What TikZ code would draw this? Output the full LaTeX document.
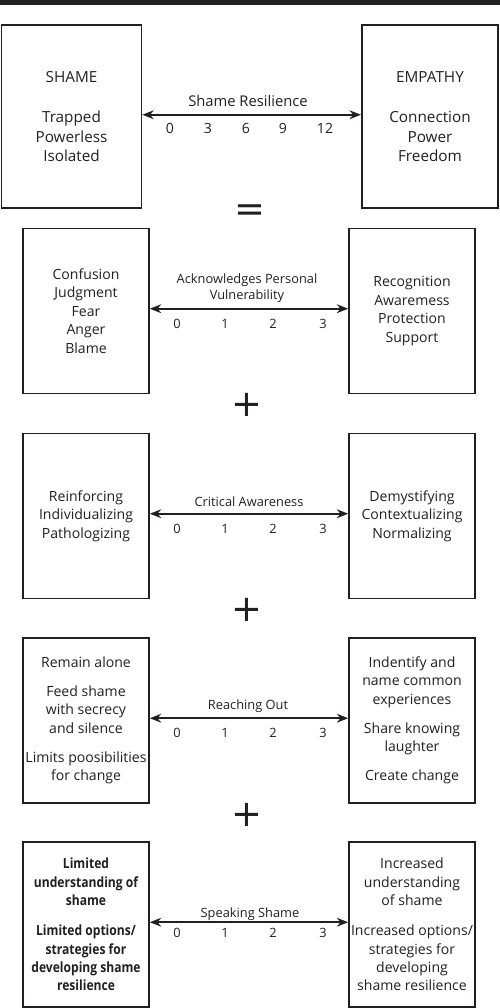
\documentclass[tikz,border=0pt]{standalone}
\usepackage{fontspec}
\setmainfont{Open Sans}
\newfontfamily\narrowbold[FakeStretch=0.86]{Open Sans}
\newfontfamily\signfont{DejaVu Sans}
\usetikzlibrary{arrows.meta}
\definecolor{inkgray}{RGB}{35,31,32}

\tikzset{
  panel/.style={draw=inkgray, line width=0.9pt, align=center, inner sep=0pt,
    minimum width=2.52cm, minimum height=3.3cm, text=inkgray,
    font=\fontsize{8}{10.5}\selectfont},
  gauge/.style={{Stealth[length=6.5pt,width=5pt]}-{Stealth[length=6.5pt,width=5pt]},
    line width=1.2pt, draw=inkgray},
  gaugelbl/.style={anchor=base, inner sep=0pt, text=inkgray,
    font=\fontsize{7.3}{9}\selectfont},
  opsign/.style={inner sep=0pt, text=inkgray, font=\signfont\fontsize{21}{21}\selectfont}
}

\begin{document}
\begin{tikzpicture}[x=0.02cm, y=-0.02cm]
    \useasboundingbox (0,0) rectangle (500,1008);
    \fill[inkgray] (0,0) rectangle (500,4.5);

    % shame resilience
    \node[panel, minimum width=2.8cm, minimum height=3.66cm,
      font=\fontsize{8.7}{11}\selectfont] (shame) at (71.5,116.5)
      {SHAME\\[12pt]Trapped\\Powerless\\Isolated};
    \node[panel, minimum width=2.73cm, minimum height=3.66cm,
      font=\fontsize{8.7}{11}\selectfont] (empathy) at (430,116.5)
      {EMPATHY\\[12pt]Connection\\Power\\Freedom};
    \draw[gauge] ([yshift=1pt]shame.east) -- ([yshift=1pt]empathy.west);
    \node[gaugelbl, font=\fontsize{8.4}{10}\selectfont] (resil) at (248,106) {Shame Resilience};
    \node[gaugelbl, font=\fontsize{8}{10}\selectfont] (sr0) at (170,133) {0};
    \node[gaugelbl, font=\fontsize{8}{10}\selectfont] (sr3) at (208,133) {3};
    \node[gaugelbl, font=\fontsize{8}{10}\selectfont] (sr6) at (246,133) {6};
    \node[gaugelbl, font=\fontsize{8}{10}\selectfont] (sr9) at (283,133) {9};
    \node[gaugelbl, font=\fontsize{8}{10}\selectfont] (sr12) at (325,133) {12};

    \node[opsign] (equals) at (250,213.5) {=};

    % vulnerability
    \node[panel] (confusion) at (86,311)
      {Confusion\\Judgment\\Fear\\Anger\\Blame};
    \node[panel] (recog) at (412,311)
      {Recognition\\Awaremess\\Protection\\Support};
    \draw[gauge] ([yshift=1.3pt]confusion.east) -- ([yshift=1.3pt]recog.west);
    \node[gaugelbl, anchor=center, align=center] (vulner) at (247,288)
      {Acknowledges Personal\\Vulnerability};
    \node[gaugelbl] (av0) at (177,328) {0};
    \node[gaugelbl] (av1) at (225,328) {1};
    \node[gaugelbl] (av2) at (273,328) {2};
    \node[gaugelbl] (av3) at (323,328) {3};

    \node[opsign] (plusA) at (247,405) {+};

    % critical awareness
    \node[panel] (reinf) at (86,516)
      {Reinforcing\\Individualizing\\Pathologizing};
    \node[panel] (demyst) at (412,516)
      {Demystifying\\Contextualizing\\Normalizing};
    \draw[gauge] ([yshift=1.3pt]reinf.east) -- ([yshift=1.3pt]demyst.west);
    \node[gaugelbl] (critical) at (249,506) {Critical Awareness};
    \node[gaugelbl] (ca0) at (177,533) {0};
    \node[gaugelbl] (ca1) at (225,533) {1};
    \node[gaugelbl] (ca2) at (273,533) {2};
    \node[gaugelbl] (ca3) at (323,533) {3};

    \node[opsign] (plusB) at (247,610) {+};

    % reaching out
    \node[panel] (alone) at (86,720.5)
      {Remain alone\\[6pt]Feed shame\\with secrecy\\and silence\\[6pt]Limits poosibilities\\for change};
    \node[panel] (identify) at (412,720.5)
      {Indentify and\\name common\\experiences\\[6pt]Share knowing\\laughter\\[6pt]Create change};
    \draw[gauge] ([yshift=1.3pt]alone.east) -- ([yshift=1.3pt]identify.west);
    \node[gaugelbl] (reach) at (248,709) {Reaching Out};
    \node[gaugelbl] (ro0) at (177,737) {0};
    \node[gaugelbl] (ro1) at (225,737) {1};
    \node[gaugelbl] (ro2) at (273,737) {2};
    \node[gaugelbl] (ro3) at (323,737) {3};

    \node[opsign] (plusC) at (247,815) {+};

    % speaking shame
    \node[panel, font=\narrowbold\bfseries\fontsize{8}{10.4}\selectfont] (limited) at (86,924.5)
      {Limited\\understanding of\\shame\\[7pt]Limited options/\\strategies for\\developing shame\\resilience};
    \node[panel, font=\fontsize{8}{10.4}\selectfont] (increased) at (412,924.5)
      {Increased\\understanding\\of shame\\[7pt]Increased options/\\strategies for\\developing\\shame resilience};
    \draw[gauge] ([yshift=1.3pt]limited.east) -- ([yshift=1.3pt]increased.west);
    \node[gaugelbl] (speak) at (250,917) {Speaking Shame};
    \node[gaugelbl] (ss0) at (177,937) {0};
    \node[gaugelbl] (ss1) at (225,937) {1};
    \node[gaugelbl] (ss2) at (273,937) {2};
    \node[gaugelbl] (ss3) at (323,937) {3};
  \end{tikzpicture}
\end{document}
